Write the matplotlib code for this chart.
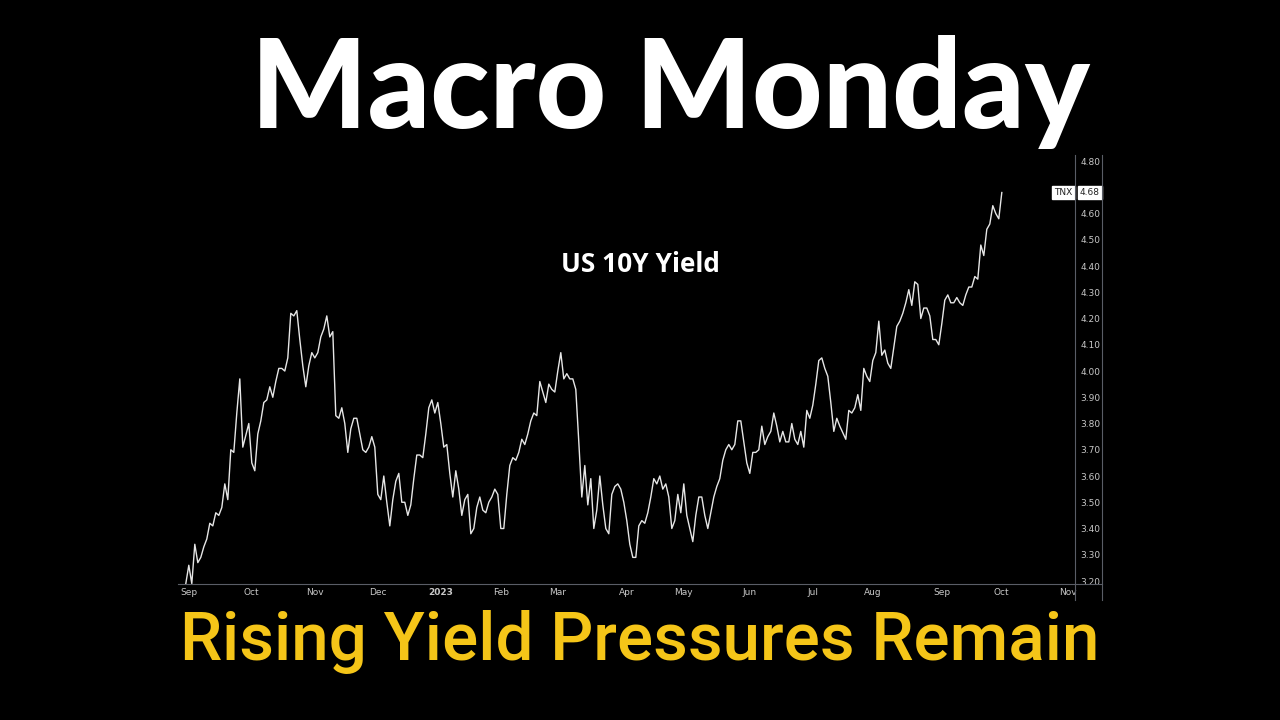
import matplotlib
matplotlib.use("Agg")
import matplotlib.pyplot as plt
import numpy as np
import pandas as pd
from matplotlib.lines import Line2D

# US 10Y yield (TNX) closes, one per NYSE session starting 2022-08-31
holidays = ["2022-09-05", "2022-11-24", "2022-12-26", "2023-01-02", "2023-01-16",
            "2023-02-20", "2023-04-07", "2023-05-29", "2023-06-19", "2023-07-04",
            "2023-09-04", "2023-11-23"]
skipped = [20, 219]  # sessions with no visible vertex on the chart

tnx = [
    3.19, 3.26, 3.19, 3.34, 3.27, 3.29, 3.33, 3.36, 3.42, 3.41,
    3.46, 3.45, 3.48, 3.57, 3.51, 3.70, 3.69, 3.84, 3.97, 3.71,
    3.80, 3.65, 3.62, 3.76, 3.81, 3.88, 3.89, 3.94, 3.90, 3.96,
    4.01, 4.01, 4.00, 4.05, 4.22, 4.21, 4.23, 4.12, 4.02, 3.94,
    4.02, 4.07, 4.05, 4.07, 4.13, 4.16, 4.21, 4.13, 4.15, 3.83,
    3.82, 3.86, 3.80, 3.69, 3.78, 3.82, 3.82, 3.76, 3.70, 3.69,
    3.71, 3.75, 3.71, 3.53, 3.51, 3.60, 3.50, 3.41, 3.51, 3.58,
    3.61, 3.50, 3.50, 3.45, 3.49, 3.59, 3.68, 3.68, 3.67, 3.76,
    3.86, 3.89, 3.84, 3.88, 3.80, 3.71, 3.72, 3.61, 3.52, 3.62,
    3.55, 3.45, 3.51, 3.53, 3.38, 3.40, 3.48, 3.52, 3.47, 3.46,
    3.50, 3.52, 3.55, 3.53, 3.40, 3.40, 3.53, 3.64, 3.67, 3.66,
    3.69, 3.74, 3.72, 3.76, 3.81, 3.84, 3.83, 3.96, 3.92, 3.88,
    3.95, 3.93, 3.92, 4.00, 4.07, 3.97, 3.99, 3.97, 3.97, 3.93,
    3.73, 3.52, 3.64, 3.49, 3.59, 3.40, 3.47, 3.60, 3.49, 3.40,
    3.38, 3.53, 3.56, 3.57, 3.55, 3.50, 3.43, 3.34, 3.29, 3.29,
    3.41, 3.43, 3.42, 3.46, 3.52, 3.59, 3.57, 3.60, 3.55, 3.57,
    3.52, 3.40, 3.43, 3.53, 3.46, 3.57, 3.45, 3.40, 3.35, 3.45,
    3.52, 3.52, 3.45, 3.40, 3.46, 3.52, 3.56, 3.59, 3.66, 3.70,
    3.72, 3.70, 3.72, 3.81, 3.81, 3.73, 3.65, 3.61, 3.69, 3.69,
    3.70, 3.79, 3.72, 3.75, 3.77, 3.84, 3.79, 3.73, 3.77, 3.73,
    3.73, 3.80, 3.74, 3.72, 3.77, 3.71, 3.85, 3.82, 3.87, 3.95,
    4.04, 4.05, 4.01, 3.98, 3.88, 3.77, 3.82, 3.79, 3.74, 3.85,
    3.84, 3.86, 3.91, 3.85, 4.01, 3.98, 3.96, 4.04, 4.07, 4.19,
    4.06, 4.08, 4.03, 4.01, 4.09, 4.17, 4.19, 4.22, 4.26, 4.31,
    4.25, 4.34, 4.33, 4.20, 4.24, 4.24, 4.21, 4.12, 4.12, 4.10,
    4.18, 4.27, 4.29, 4.26, 4.26, 4.28, 4.26, 4.25, 4.29, 4.32,
    4.32, 4.36, 4.35, 4.48, 4.44, 4.54, 4.56, 4.63, 4.60, 4.58,
    4.68,
]

sessions = [i for i in range(len(tnx) + len(skipped)) if i not in skipped]
cal = pd.bdate_range("2022-08-31", "2023-11-30", freq="C", holidays=holidays)

# first session of each month -> time axis labels
tick_pos, tick_lab = [], []
for i in range(1, len(cal)):
    if cal[i].month != cal[i - 1].month and i < 296:
        tick_pos.append(i)
        tick_lab.append(str(cal[i].year) if cal[i].month == 1 else cal[i].strftime("%b"))

W, H = 1280, 720
fig = plt.figure(figsize=(12.8, 7.2), dpi=100, facecolor="black")
ax = fig.add_axes([178 / W, 1 - 583.5 / H, 897 / W, (583.5 - 155) / H])
ax.set_facecolor("black")

ax.plot(sessions, tnx, color="#e6e6e6", lw=1.0)

ax.set_xlim(-2.6, 296.4)
ax.set_ylim(3.1905, 4.823)
for s in ax.spines.values():
    s.set_visible(False)

last = tnx[-1]
yt = np.round(np.arange(3.2, 4.81, 0.1), 2)
ax.yaxis.tick_right()
ax.set_yticks(yt)
# the 4.70 label sits under the last-value tag
ax.set_yticklabels(["" if abs(v - last) < 0.05 else f"{v:.2f}" for v in yt])
ax.tick_params(axis="y", length=0, pad=4, labelsize=6.5, labelcolor="#c8c8c8")
ax.set_xticks(tick_pos)
ax.set_xticklabels(tick_lab)
ax.tick_params(axis="x", length=0, pad=3, labelsize=6.5, labelcolor="#c8c8c8")
for t in ax.get_xticklabels():
    if t.get_text() == "2023":
        t.set_fontweight("bold")

# chart frame lines
grey = "#5a5d66"
fig.add_artist(Line2D([1075 / W, 1075 / W], [1 - 155 / H, 1 - 600 / H], color=grey, lw=0.8))
fig.add_artist(Line2D([1102 / W, 1102 / W], [1 - 155 / H, 1 - 600 / H], color=grey, lw=0.8))
fig.add_artist(Line2D([178 / W, 1102 / W], [1 - 583.5 / H, 1 - 583.5 / H], color=grey, lw=0.8))

# last value tag
ax.text(0.997, last, "TNX", transform=ax.get_yaxis_transform(), ha="right", va="center",
        fontsize=6.5, color="#222222",
        bbox=dict(boxstyle="square,pad=0.25", fc="white", ec="white"))
ax.text(1.0055, last, f"{last:.2f}", transform=ax.get_yaxis_transform(), ha="left", va="center",
        fontsize=6.5, color="#222222",
        bbox=dict(boxstyle="square,pad=0.25", fc="white", ec="white"))

sub = fig.text(640 / W, 1 - 272 / H, "US 10Y Yield", ha="center", va="baseline",
               color="white", fontsize=16, fontweight="bold", family="Open Sans")

title = fig.text(670 / W, 1 - 128 / H, "Macro Monday", ha="center", va="baseline",
                 color="white", fontsize=90, fontweight="black", family="Lato")
bottom = fig.text(640 / W, 1 - 660 / H, "Rising Yield Pressures Remain", ha="center", va="baseline",
                  color="#f5c518", fontsize=48, fontweight="medium", family="Roboto")

# scale the big texts to the widths they take in the picture
fig.canvas.draw()
r = fig.canvas.get_renderer()
for t, w in [(title, 840), (bottom, 920), (sub, 159)]:
    t.set_fontsize(t.get_fontsize() * w / t.get_window_extent(r).width)

fig.savefig("out.png", dpi=100, facecolor="black")
